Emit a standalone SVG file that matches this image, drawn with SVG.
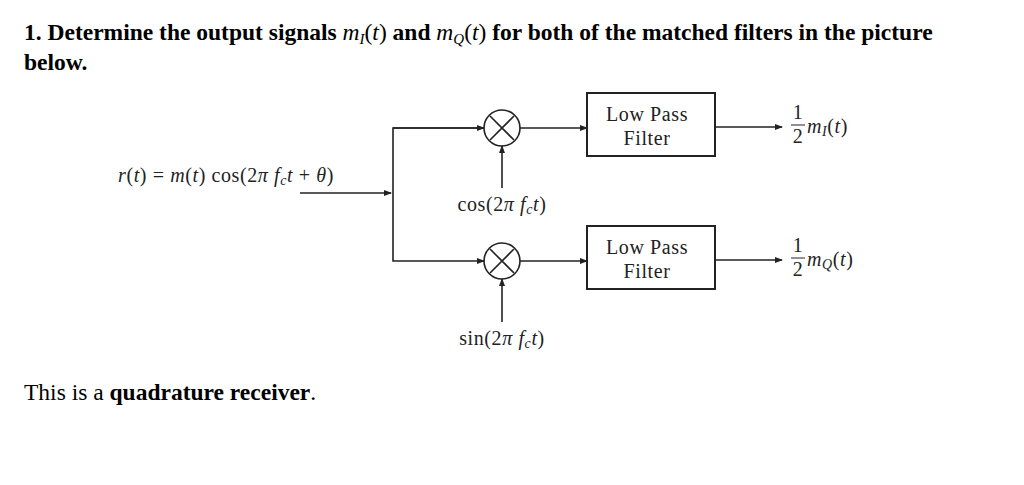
<svg xmlns="http://www.w3.org/2000/svg" width="1024" height="485" viewBox="0 0 1024 485">
<style>
.h{font-family:"Liberation Serif",serif;font-size:23.5px;fill:#000}
.m{font-family:"Liberation Serif",serif;font-size:20px;fill:#222;letter-spacing:0.6px}
.ln{stroke:#222;stroke-width:1.6;fill:none}
.bx{stroke:#222;stroke-width:2;fill:#fff}
</style>
<defs><marker id="a" markerWidth="8" markerHeight="6" refX="7" refY="3" orient="auto" markerUnits="userSpaceOnUse"><path d="M0,0L8,3L0,6z" fill="#222"/></marker></defs>
<rect width="1024" height="485" fill="#fff"/>
<text class="h" x="24" y="40" font-weight="bold">1. Determine the output signals <tspan font-style="italic" font-weight="normal">m</tspan><tspan font-style="italic" font-weight="normal" font-size="15" dy="4">I</tspan><tspan font-weight="normal" dy="-4">(</tspan><tspan font-style="italic" font-weight="normal">t</tspan><tspan font-weight="normal">)</tspan> and <tspan font-style="italic" font-weight="normal">m</tspan><tspan font-style="italic" font-weight="normal" font-size="15" dy="4">Q</tspan><tspan font-weight="normal" dy="-4">(</tspan><tspan font-style="italic" font-weight="normal">t</tspan><tspan font-weight="normal">)</tspan> for both of the matched filters in the picture</text>
<text class="h" x="24" y="70" font-weight="bold">below.</text>
<text class="h" x="24" y="400">This is a <tspan font-weight="bold">quadrature receiver</tspan>.</text>
<g id="connectors">
<path class="ln" d="M300,193H391" marker-end="url(#a)"/>
<path class="ln" d="M484,128H393V261H484" marker-end="url(#a)"/>
<path class="ln" d="M393,128H484" marker-end="url(#a)"/>
<path class="ln" d="M520,128H587" marker-end="url(#a)"/>
<path class="ln" d="M520,261H587" marker-end="url(#a)"/>
<path class="ln" d="M502,188V146" marker-end="url(#a)"/>
<path class="ln" d="M502,322V279" marker-end="url(#a)"/>
<path class="ln" d="M715,127H782" marker-end="url(#a)"/>
<path class="ln" d="M715,260H782" marker-end="url(#a)"/>
</g>
<g id="input"><text class="m" x="118" y="182" font-style="italic">r<tspan font-style="normal">(</tspan>t<tspan font-style="normal">)  =  </tspan>m<tspan font-style="normal">(</tspan>t<tspan font-style="normal">) cos(2</tspan>π f<tspan font-size="14" dy="3">c</tspan><tspan dy="-3">t</tspan><tspan font-style="normal">  +  </tspan>θ<tspan font-style="normal">)</tspan></text></g>
<g id="mix1"><circle class="ln" cx="502" cy="128" r="18"/><path class="ln" d="M490,116L514,140M514,116L490,140" stroke-width="2"/></g>
<g id="mix2"><circle class="ln" cx="502" cy="261" r="18"/><path class="ln" d="M490,249L514,273M514,249L490,273" stroke-width="2"/></g>
<g id="cos"><text class="m" x="502" y="211" text-anchor="middle">cos(2<tspan font-style="italic">π f</tspan><tspan font-style="italic" font-size="14" dy="3">c</tspan><tspan font-style="italic" dy="-3">t</tspan>)</text></g>
<g id="sin"><text class="m" x="502" y="345" text-anchor="middle">sin(2<tspan font-style="italic">π f</tspan><tspan font-style="italic" font-size="14" dy="3">c</tspan><tspan font-style="italic" dy="-3">t</tspan>)</text></g>
<g id="lpf1"><rect class="bx" x="587" y="93" width="128" height="63"/><text class="m" x="647" y="121" text-anchor="middle">Low Pass</text><text class="m" x="647" y="145" text-anchor="middle">Filter</text></g>
<g id="lpf2"><rect class="bx" x="587" y="226" width="128" height="63"/><text class="m" x="647" y="254" text-anchor="middle">Low Pass</text><text class="m" x="647" y="278" text-anchor="middle">Filter</text></g>
<g id="out1"><text class="m" x="798" y="119" text-anchor="middle">1</text><path d="M791,125H805" stroke="#222" stroke-width="1"/><text class="m" x="798" y="143" text-anchor="middle">2</text><text class="m" x="807" y="133" font-style="italic">m<tspan font-size="14" dy="3">I</tspan><tspan font-style="normal" dy="-3">(</tspan>t<tspan font-style="normal">)</tspan></text></g>
<g id="out2"><text class="m" x="798" y="252" text-anchor="middle">1</text><path d="M791,258H805" stroke="#222" stroke-width="1"/><text class="m" x="798" y="276" text-anchor="middle">2</text><text class="m" x="807" y="266" font-style="italic">m<tspan font-size="14" dy="3">Q</tspan><tspan font-style="normal" dy="-3">(</tspan>t<tspan font-style="normal">)</tspan></text></g>
</svg>
